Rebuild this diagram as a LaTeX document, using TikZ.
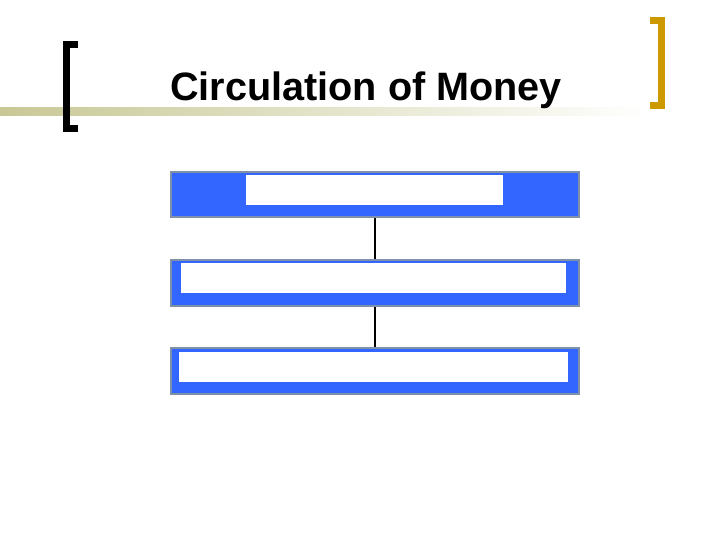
\documentclass[tikz,border=0pt]{standalone}
\usepackage{fontspec}
\setmainfont{Liberation Sans}
\definecolor{boxblue}{RGB}{51,102,255}
\definecolor{boxedge}{RGB}{128,144,168}
\definecolor{olive}{RGB}{200,200,150}
\definecolor{gold}{RGB}{204,153,0}
\begin{document}
\begin{tikzpicture}[x=1pt,y=-1pt,
  outerbox/.style={draw=boxedge,line width=2pt,fill=boxblue,inner sep=0pt,minimum width=408pt},
  innerbox/.style={fill=white,draw=none,inner sep=0pt,minimum height=30pt},
  link/.style={draw=black,line width=1.2pt}]
\useasboundingbox (0,0) rectangle (720,540);
% gradient rule
\shade[left color=olive,right color=white] (0,108) rectangle (650,116);
% left bracket
\fill[black] (62.5,41) rectangle (70,132);
\fill[black] (62.5,41) rectangle (78,48);
\fill[black] (62.5,125) rectangle (78,132);
% right bracket
\fill[gold] (658,17) rectangle (665,109);
\fill[gold] (650,17) rectangle (665,24);
\fill[gold] (650,102) rectangle (665,109);
% title
\node[anchor=base west,inner sep=0pt,font=\fontsize{39.6}{48}\selectfont\bfseries] (title) at (170,101) {Circulation of Money};
% boxes
\node[outerbox,minimum height=45pt] (b1) at (375,194.5) {};
\node[innerbox,minimum width=257pt] (i1) at (374.5,190) {};
\node[outerbox,minimum height=46pt] (b2) at (375,283) {};
\node[innerbox,minimum width=385pt] (i2) at (373.5,278) {};
\node[outerbox,minimum height=46pt] (b3) at (375,371) {};
\node[innerbox,minimum width=389pt] (i3) at (373.5,367) {};
\draw[link] (b1.south) -- (b2.north);
\draw[link] (b2.south) -- (b3.north);
\end{tikzpicture}
\end{document}
